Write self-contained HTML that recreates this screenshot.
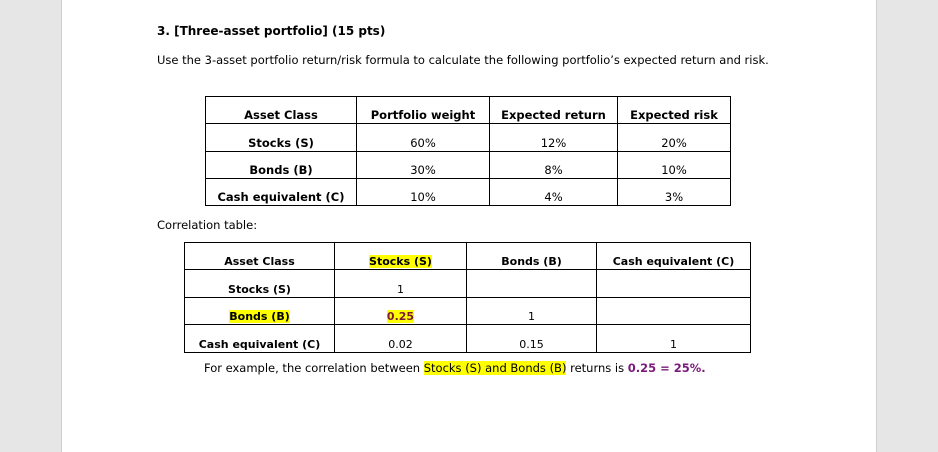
<!DOCTYPE html>
<html><head><meta charset="utf-8"><style>
body{margin:0;width:938px;height:452px;background:#e6e6e6;position:relative;overflow:hidden;font-family:"DejaVu Sans","Liberation Sans",sans-serif;font-size:11.5px;color:#000}
.page{position:absolute;left:61px;top:0;width:814px;height:452px;background:#fff;border-left:1px solid #d0d0d0;border-right:1px solid #d0d0d0}
.t{position:absolute;white-space:nowrap}
table{position:absolute;border-collapse:collapse}
td{border:1px solid #000;text-align:center;padding:0;vertical-align:bottom;padding-bottom:1px}
.b{font-weight:bold}
.hl{background:#ffff00}
</style></head><body>
<div class="page"></div>
<div class="t b" style="left:157px;top:24px;font-size:12px">3. [Three-asset portfolio] (15 pts)</div>
<div class="t" style="left:157px;top:53px">Use the 3-asset portfolio return/risk formula to calculate the following portfolio’s expected return and risk.</div>
<table style="left:205px;top:96px">
<tr style="height:27px"><td class="b" style="width:150px">Asset Class</td><td class="b" style="width:132px">Portfolio weight</td><td class="b" style="width:127px">Expected return</td><td class="b" style="width:112px">Expected risk</td></tr>
<tr style="height:28px"><td class="b">Stocks (S)</td><td>60%</td><td>12%</td><td>20%</td></tr>
<tr style="height:27px"><td class="b">Bonds (B)</td><td>30%</td><td>8%</td><td>10%</td></tr>
<tr style="height:27px"><td class="b">Cash equivalent (C)</td><td>10%</td><td>4%</td><td>3%</td></tr>
</table>
<div class="t" style="left:157px;top:218px">Correlation table:</div>
<table style="left:184px;top:242px;font-size:11px">
<tr style="height:27px"><td class="b" style="width:149px">Asset Class</td><td class="b" style="width:131px"><span class="hl">Stocks (S)</span></td><td class="b" style="width:129px">Bonds (B)</td><td class="b" style="width:153px">Cash equivalent (C)</td></tr>
<tr style="height:28px"><td class="b">Stocks (S)</td><td>1</td><td></td><td></td></tr>
<tr style="height:27px"><td class="b"><span class="hl">Bonds (B)</span></td><td class="b"><span class="hl" style="color:#7a1a3a">0.25</span></td><td>1</td><td></td></tr>
<tr style="height:28px"><td class="b">Cash equivalent (C)</td><td>0.02</td><td>0.15</td><td>1</td></tr>
</table>
<div class="t" style="left:204px;top:361px">For example, the correlation between <span class="hl">Stocks (S) and Bonds (B)</span> returns is <span class="b" style="color:#7a1a7a">0.25 = 25%.</span></div>
</body></html>
